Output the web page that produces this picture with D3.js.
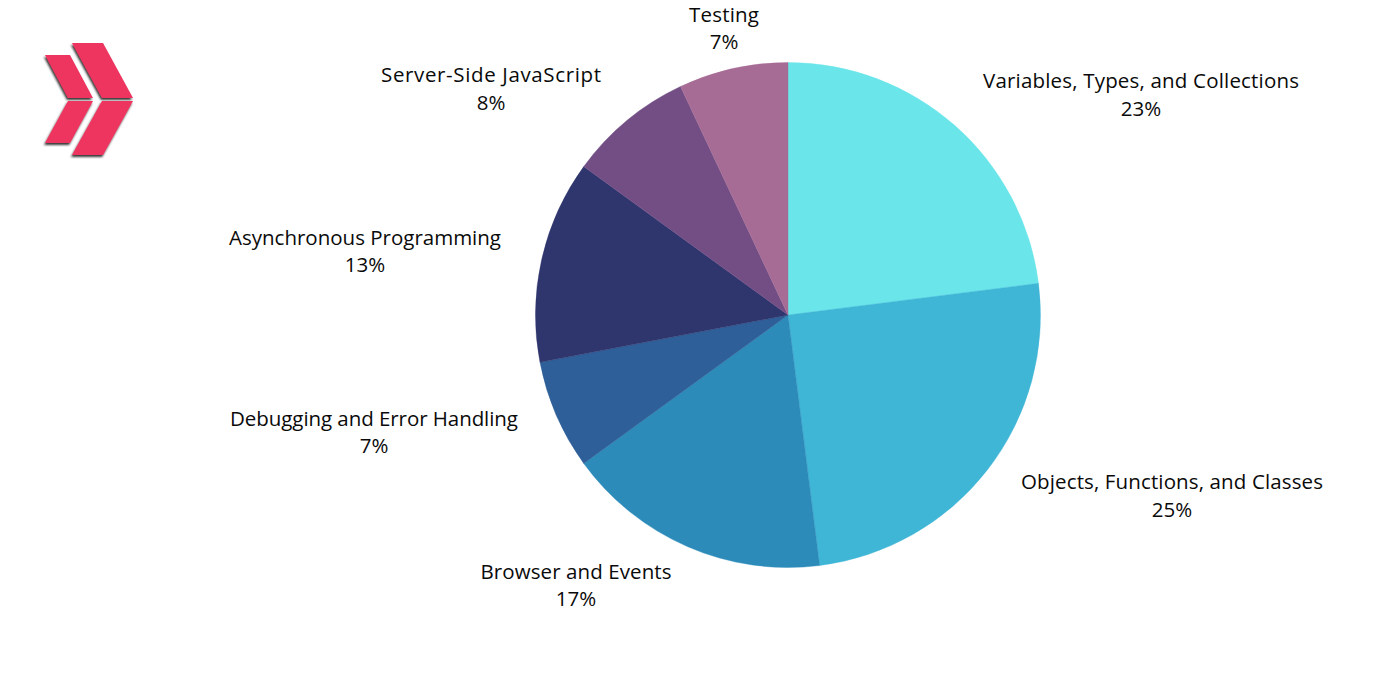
<!DOCTYPE html>
<html lang="en">
<head>
    <meta charset="UTF-8">
    <title>JavaScript Topics</title>
    <script src="https://d3js.org/d3.v7.min.js"></script>
    <style>
        body { margin: 0; background: #fff; }
        svg { display: block; }
        .label { font-family: "Open Sans", sans-serif; font-size: 20.5px; fill: #0a0a0a; text-anchor: middle; }
    </style>
</head>
<body>
    <div id="chart"></div>
    <script>
        const topics = ["Variables, Types, and Collections", "Objects, Functions, and Classes", "Browser and Events",
            "Debugging and Error Handling", "Asynchronous Programming", "Server-Side JavaScript", "Testing"];
        const shares = [23, 25, 17, 7, 13, 8, 7];
        const colors = ["#6ae6ea", "#40b6d6", "#2d8bba", "#2e5f98", "#2f356d", "#724e85", "#a66c96"];

        // label centres and widths, placed by hand like in the original
        const labelX = [1141, 1172, 576, 374, 365, 491, 724];
        const labelY = [81, 482, 572, 419, 238, 75, 15];
        const percentY = [109, 510, 599, 446, 265, 103, 42];
        const labelWidth = [316, 302, 191, 288, 272, 220, 70];

        const width = 1387, height = 692;
        const cx = 788, cy = 315, radius = 252.5;

        const svg = d3.select("#chart").append("svg")
            .attr("width", width)
            .attr("height", height);

        const pie = d3.pie().sort(null).value(d => d);
        const arc = d3.arc().innerRadius(0).outerRadius(radius);

        svg.append("g")
            .attr("transform", `translate(${cx},${cy})`)
            .selectAll("path")
            .data(pie(shares))
            .enter().append("path")
            .attr("d", arc)
            .attr("fill", (d, i) => colors[i])
            .attr("stroke", (d, i) => colors[i])
            .attr("stroke-width", 0.4);

        const label = svg.selectAll(".label")
            .data(topics)
            .enter().append("text")
            .attr("class", "label");

        label.append("tspan")
            .attr("x", (d, i) => labelX[i])
            .attr("y", (d, i) => labelY[i] + 7)
            .attr("textLength", (d, i) => labelWidth[i])
            .text(d => d);
        label.append("tspan")
            .attr("x", (d, i) => labelX[i])
            .attr("y", (d, i) => percentY[i] + 7)
            .text((d, i) => shares[i] + "%");

        // chevron logo, top left
        const logoParts = [
            [[72, 43], [103, 43], [133, 98], [102, 98]],
            [[45, 55], [70, 55], [93, 98], [68, 98]],
            [[68, 101], [93, 101], [70, 143], [45, 143]],
            [[102, 101], [133, 101], [103, 155], [72, 155]]
        ];
        const defs = svg.append("defs");
        defs.append("filter").attr("id", "logo-shadow")
            .append("feDropShadow")
            .attr("dx", -1).attr("dy", 2).attr("stdDeviation", 1)
            .attr("flood-color", "#1a1a1a").attr("flood-opacity", 0.9);

        svg.append("g")
            .attr("filter", "url(#logo-shadow)")
            .selectAll("polygon")
            .data(logoParts)
            .enter().append("polygon")
            .attr("points", d => d.join(" "))
            .attr("fill", "#ee3460");
    </script>
</body>
</html>
